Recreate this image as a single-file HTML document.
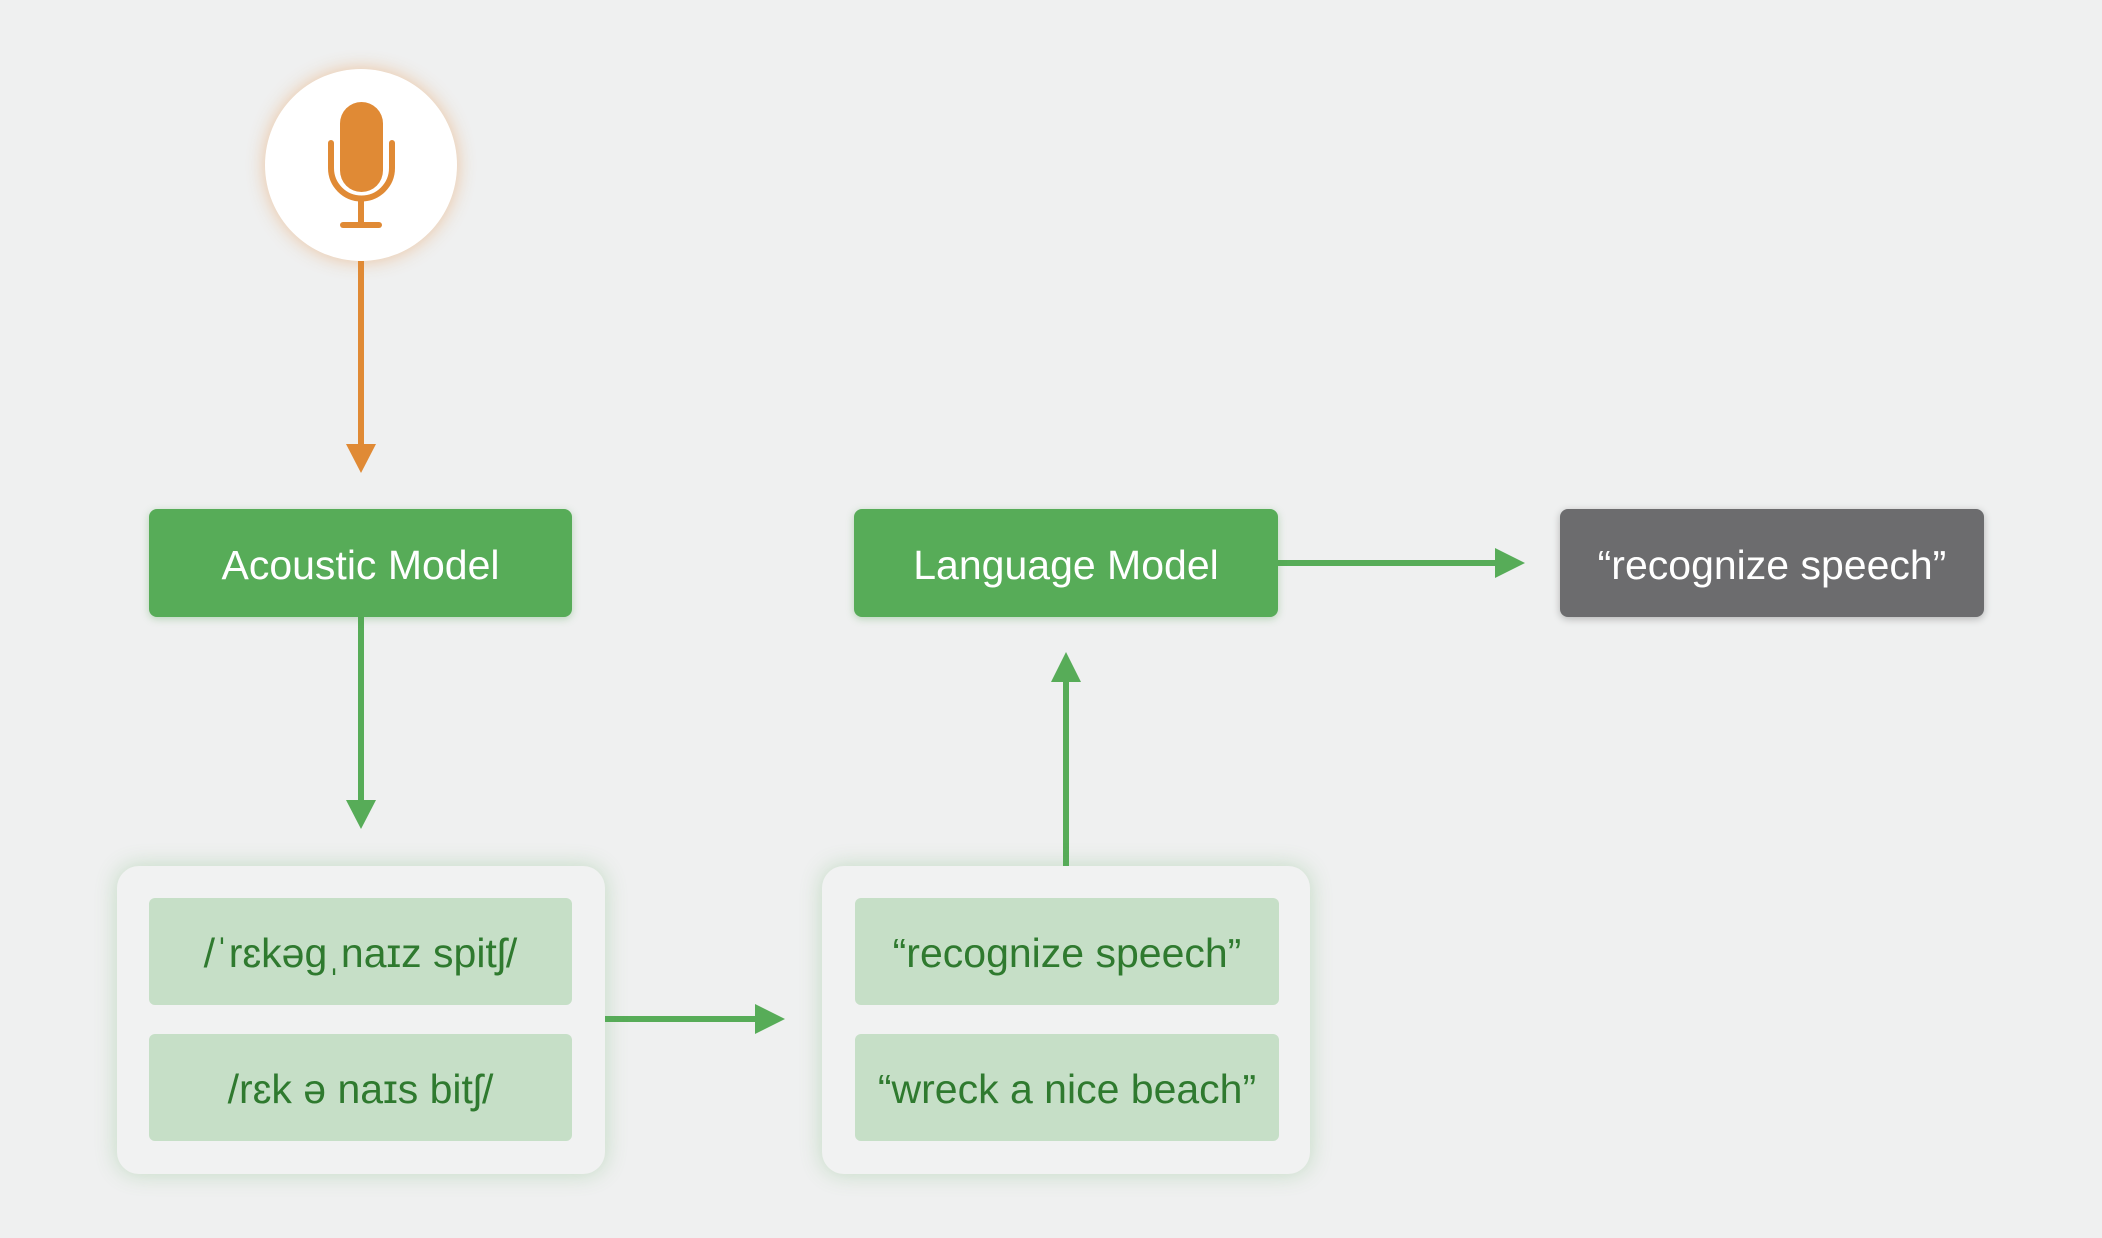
<!DOCTYPE html>
<html><head><style>
body{margin:0;width:2102px;height:1238px;background:#eff0f0;position:relative;overflow:hidden;font-family:"Liberation Sans",sans-serif}
.b{position:absolute;display:flex;align-items:center;justify-content:center;font-size:41px;border-radius:8px;padding-top:4px;box-sizing:border-box}
.g{background:#57ac58;color:#fff;box-shadow:0 2px 8px rgba(80,160,80,.35)}
.d{background:#6c6c6e;color:#fff;box-shadow:0 2px 8px rgba(0,0,0,.25)}
.l{background:#c6dfc7;color:#2f7a2f;border-radius:6px}
.c{position:absolute;background:#f1f2f2;border-radius:22px;box-shadow:0 0 22px rgba(90,170,90,.3)}
</style></head><body>
<div style="position:absolute;left:265px;top:69px;width:192px;height:192px;border-radius:50%;background:#fff;box-shadow:0 0 18px rgba(230,140,60,.45)"></div>
<svg width="2102" height="1238" style="position:absolute;left:0;top:0">
<rect x="340" y="102" width="43" height="90" rx="21.5" fill="#e08a35"/>
<path d="M331 143 V168 A30 30 0 0 0 392 168 V143" fill="none" stroke="#e08a35" stroke-width="6" stroke-linecap="round"/>
<line x1="361" y1="198" x2="361" y2="225" stroke="#e08a35" stroke-width="6"/>
<line x1="343" y1="225" x2="379" y2="225" stroke="#e08a35" stroke-width="6" stroke-linecap="round"/>
<line x1="361" y1="261" x2="361" y2="448" stroke="#e08a35" stroke-width="6"/>
<polygon points="346,444 376,444 361,473" fill="#e08a35"/>
<g fill="#57ac58" stroke="#57ac58">
<line x1="361" y1="617" x2="361" y2="805" stroke-width="6"/>
<polygon points="346,800 376,800 361,829" stroke="none"/>
<line x1="1278" y1="563" x2="1500" y2="563" stroke-width="6"/>
<polygon points="1495,548 1495,578 1525,563" stroke="none"/>
<line x1="605" y1="1019" x2="760" y2="1019" stroke-width="6"/>
<polygon points="755,1004 755,1034 785,1019" stroke="none"/>
<line x1="1066" y1="866" x2="1066" y2="677" stroke-width="6"/>
<polygon points="1051,682 1081,682 1066,652" stroke="none"/>
</g>
</svg>
<div class="b g" style="left:149px;top:509px;width:423px;height:108px">Acoustic Model</div>
<div class="b g" style="left:854px;top:509px;width:424px;height:108px">Language Model</div>
<div class="b d" style="left:1560px;top:509px;width:424px;height:108px">“recognize speech”</div>
<div class="c" style="left:117px;top:866px;width:488px;height:308px"></div>
<div class="c" style="left:822px;top:866px;width:488px;height:308px"></div>
<div class="b l" style="left:149px;top:898px;width:423px;height:107px">/ˈrɛkəgˌnaɪz spitʃ/</div>
<div class="b l" style="left:149px;top:1034px;width:423px;height:107px">/rɛk ə naɪs bitʃ/</div>
<div class="b l" style="left:855px;top:898px;width:424px;height:107px">“recognize speech”</div>
<div class="b l" style="left:855px;top:1034px;width:424px;height:107px">“wreck a nice beach”</div>
</body></html>
